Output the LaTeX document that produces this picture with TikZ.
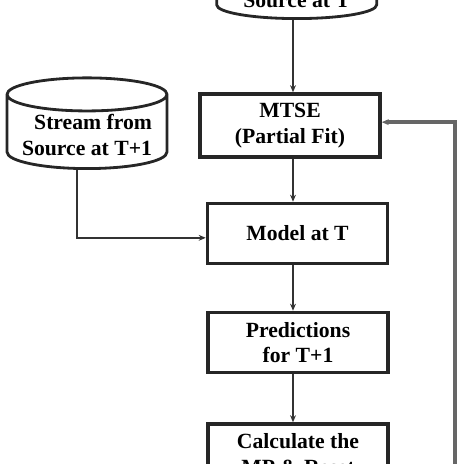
\documentclass[tikz,border=0pt]{standalone}
\usepackage{fontspec}
\setmainfont{Liberation Serif}
\usetikzlibrary{shapes.geometric, arrows.meta}

\begin{document}
\begin{tikzpicture}[
		txt/.style={align=center, font=\bfseries\fontsize{18.5}{22}\selectfont},
		box/.style={txt, draw=black!85, line width=3pt, minimum width=5.4cm, minimum height=1.8cm},
		store/.style={txt, align=right, draw=black!85, line width=2.4pt, cylinder, shape border rotate=90, aspect=0.24, inner ysep=1.5pt, minimum width=4.8cm, anchor=south},
		flow/.style={draw=black!80, line width=2pt, -{Stealth[length=6pt,width=5pt]}}
	]
					\useasboundingbox (0,0) rectangle (13.92,13.92);
					\clip (0,0) rectangle (13.92,13.92);
					
					\coordinate (spine) at (8.79,0);
					\coordinate (back) at (13.65,-1);
					
					\node[store] (src) at (8.9,13.32) {~\\Source at T};
					\node[store] (stream) at (2.61,8.82) {Stream from\\Source at T+1};
					
					\node[box, minimum height=1.89cm] (mtse) at (8.7,10.155) {MTSE\\(Partial Fit)};
					\node[box] (model) at (8.925,6.915) {Model at T};
					\node[box] (pred) at (8.94,3.645) {Predictions\\for T+1};
					\node[box] (calc) at (8.94,0.3) {Calculate the\\MP \& Reset};
					
					\draw[flow] (src.south -| spine) -- (mtse.north -| spine);
					\draw[flow] (mtse.south -| spine) -- (model.north -| spine);
					\draw[flow] (model.south -| spine) -- (pred.north -| spine);
					\draw[flow] (pred.south -| spine) -- (calc.north -| spine);
					\draw[flow] ([xshift=-0.3cm]stream.south) |- ([yshift=-0.13cm]model.west);
					\draw[flow, draw=black!60, line width=3pt] (back) |- ([yshift=0.1cm]mtse.east);
				\end{tikzpicture}
\end{document}
